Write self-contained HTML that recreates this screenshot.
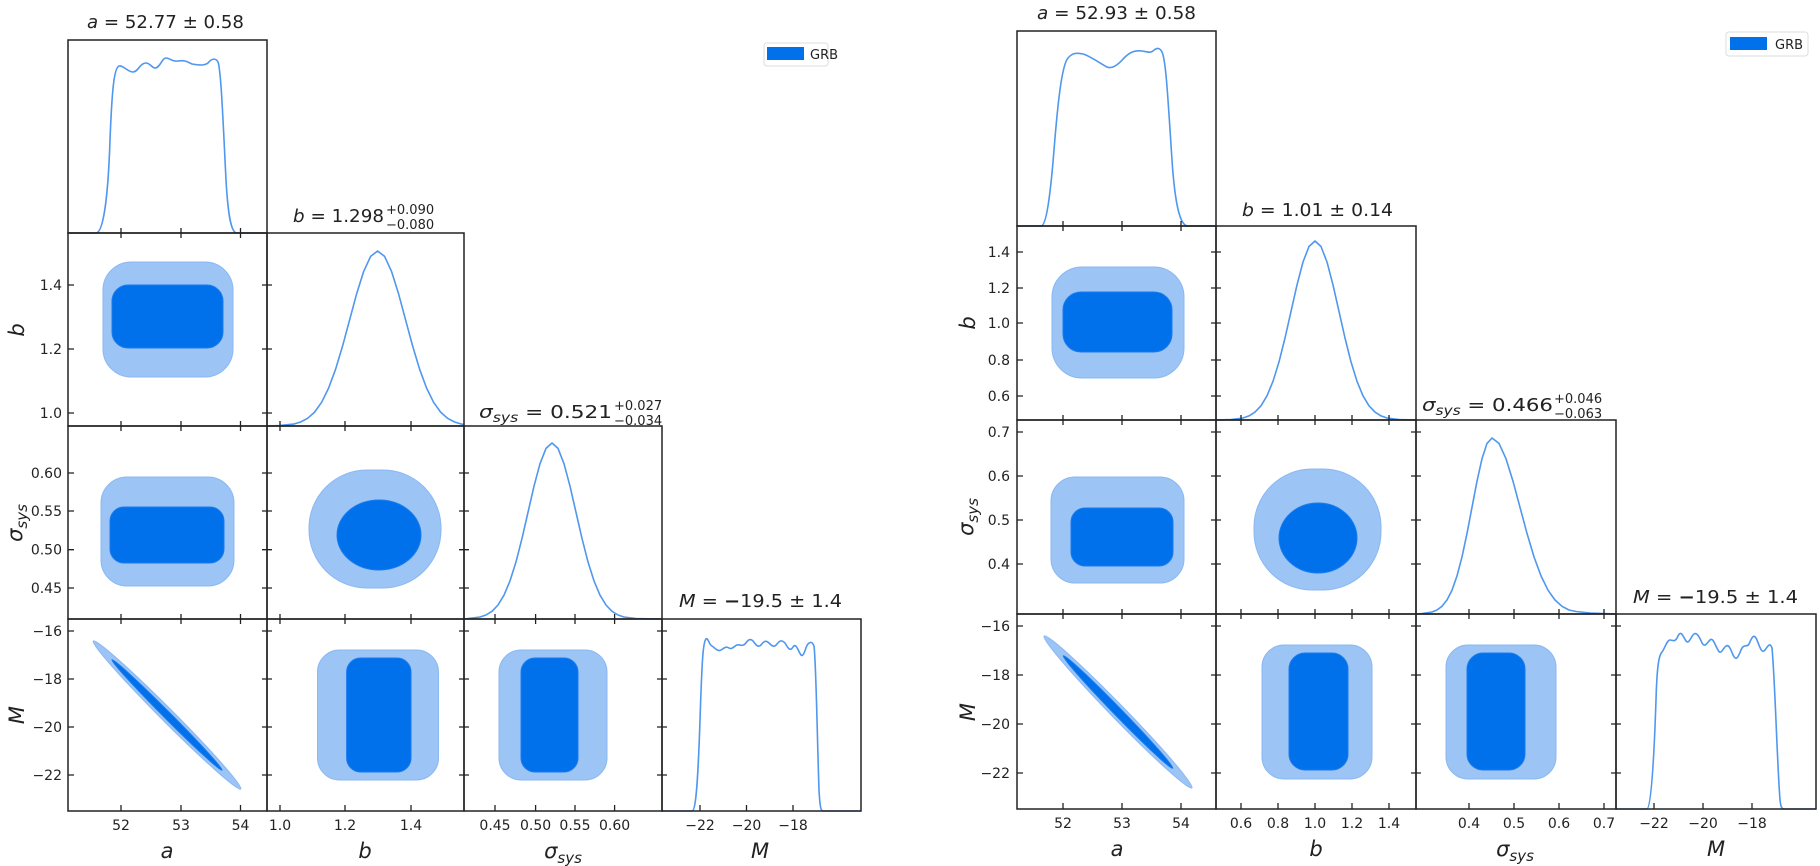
<!DOCTYPE html>
<html><head><meta charset="utf-8"><style>
html,body{margin:0;padding:0;background:#fff}
svg{display:block}
text{font-family:"DejaVu Sans","Liberation Sans",sans-serif;fill:#222}
.t{font-size:14px}
.ti{font-size:18px}
.lab{font-size:21px;font-style:italic}
.c1{fill:#9cc4f5;stroke:#8ab8f2;stroke-width:1}
.c2{fill:#0070eb;stroke:#1a7cee;stroke-width:1}
.ln{fill:none;stroke:#4f97ef;stroke-width:1.6;stroke-linejoin:round}
.ax{fill:none;stroke:#222;stroke-width:1.5}
.tk{fill:none;stroke:#222;stroke-width:1.3}
</style></head><body>
<svg width="1820" height="866" viewBox="0 0 1820 866" xmlns="http://www.w3.org/2000/svg">
<rect width="1820" height="866" fill="#fff"/>

<!-- ================= LEFT ================= -->
<rect class="c1" x="103" y="262" width="130" height="115" rx="28"/>
<rect class="c2" x="112" y="285" width="111" height="63" rx="16"/>
<rect class="c1" x="101" y="477" width="133" height="109" rx="26"/>
<rect class="c2" x="110" y="507" width="114" height="56" rx="14"/>
<rect class="c1" x="309" y="470" width="132" height="118" rx="58"/>
<ellipse class="c2" cx="379" cy="535" rx="42" ry="35"/>
<ellipse class="c1" cx="167" cy="715" rx="104.5" ry="6.5" transform="rotate(45.1 167 715)"/>
<ellipse class="c2" cx="167" cy="715" rx="78" ry="3.5" transform="rotate(45.1 167 715)"/>
<rect class="c1" x="317.5" y="650" width="121" height="130" rx="22"/>
<rect class="c2" x="346.6" y="658" width="64.4" height="114" rx="14"/>
<rect class="c1" x="499" y="650" width="108" height="130" rx="22"/>
<rect class="c2" x="521" y="658" width="57" height="114" rx="14"/>

<path class="ln" d="M68,233 L96,233 C103,233 108,200 110,140 C112,90 114,68 119,66 C123,65 128,72 133,72 C138,72 140,63 146,63 C150,63 152,68 155,68 C160,68 162,58 166,58 C170,58 172,62 178,61 C184,60 186,61 192,64 C198,65 204,66 208,63 C212,58 216,58 218,62 C221,70 223,120 226,180 C228,215 231,233 237,233 L267,233"/>
<polyline class="ln" points="267,426 279.6,425.6 293.6,424.1 300.6,422 307.6,418.3 314.6,412.1 321.6,402.3 328.6,388.1 335.6,369.2 342.6,345.9 349.6,319.9 356.6,293.9 363.6,271.6 370.6,256.4 377.6,251 384.6,256.4 391.6,271.6 398.6,293.9 405.6,319.9 412.6,345.9 419.6,369.2 426.6,388.1 433.6,402.3 440.6,412.1 447.6,418.3 454.6,422 461.6,424.1 464,424.5"/>
<polyline class="ln" points="464,619 468,618.6 480,617 486,615 492,611.3 498,605 504,595.2 510,580.9 516,561.9 522,538.4 528,512.3 534,486.2 540,463.7 546,448.4 552,443 558,448.4 564,463.7 570,486.2 576,512.3 582,538.4 588,561.9 594,580.9 600,595.2 606,605 612,611.3 618,615 624,617 636,618.6 662,619"/>
<path class="ln" d="M662,811 L692,811 C696,811 698,780 700,720 C702,660 703,642 706,639 C708,637 709,645 712,646 C715,648 718,652 721,650 C724,648 726,646 729,648 C732,650 734,646 737,645 C740,644 742,647 745,644 C748,640 750,638 753,641 C756,645 758,648 761,645 C764,641 766,640 769,643 C772,646 774,648 777,644 C780,640 782,640 785,643 C788,648 790,652 793,647 C796,642 798,651 801,655 C804,658 806,645 808,644 C810,642 812,641 814,646 C816,660 817,730 819,790 C820,808 821,811 823,811 L861,811"/>

<g class="ax">
<rect x="68" y="40" width="199" height="193"/>
<rect x="68" y="233" width="199" height="193"/><rect x="267" y="233" width="197" height="193"/>
<rect x="68" y="426" width="199" height="193"/><rect x="267" y="426" width="197" height="193"/><rect x="464" y="426" width="198" height="193"/>
<rect x="68" y="619" width="199" height="192"/><rect x="267" y="619" width="197" height="192"/><rect x="464" y="619" width="198" height="192"/><rect x="662" y="619" width="199" height="192"/>
</g>
<path class="tk" d="
M121,228L121,238 M181,228L181,238 M240.5,228L240.5,238
M121,421L121,431 M181,421L181,431 M240.5,421L240.5,431
M121,614L121,624 M181,614L181,624 M240.5,614L240.5,624
M121,805L121,811 M181,805L181,811 M240.5,805L240.5,811
M280,421L280,431 M345,421L345,431 M411,421L411,431
M280,614L280,624 M345,614L345,624 M411,614L411,624
M280,805L280,811 M345,805L345,811 M411,805L411,811
M495,614L495,624 M535.6,614L535.6,624 M575,614L575,624 M614.6,614L614.6,624
M495,805L495,811 M535.6,805L535.6,811 M575,805L575,811 M614.6,805L614.6,811
M700,805L700,811 M746.5,805L746.5,811 M793,805L793,811
M68,285L74,285 M68,349L74,349 M68,413L74,413 M262,285L272,285 M262,349L272,349 M262,413L272,413
M68,473L74,473 M68,511L74,511 M68,549.7L74,549.7 M68,588L74,588
M262,473L272,473 M262,511L272,511 M262,549.7L272,549.7 M262,588L272,588
M459,473L469,473 M459,511L469,511 M459,549.7L469,549.7 M459,588L469,588
M68,631L74,631 M68,679L74,679 M68,727L74,727 M68,775L74,775
M262,631L272,631 M262,679L272,679 M262,727L272,727 M262,775L272,775
M459,631L469,631 M459,679L469,679 M459,727L469,727 M459,775L469,775
M657,631L667,631 M657,679L667,679 M657,727L667,727 M657,775L667,775"/>

<g class="t" text-anchor="middle">
<text x="121" y="830">52</text><text x="181" y="830">53</text><text x="240.5" y="830">54</text>
<text x="280" y="830">1.0</text><text x="345" y="830">1.2</text><text x="411" y="830">1.4</text>
<text x="495" y="830">0.45</text><text x="535.6" y="830">0.50</text><text x="575" y="830">0.55</text><text x="614.6" y="830">0.60</text>
<text x="700" y="830">−22</text><text x="746.5" y="830">−20</text><text x="793" y="830">−18</text>
</g>
<g class="t" text-anchor="end">
<text x="62" y="290">1.4</text><text x="62" y="354">1.2</text><text x="62" y="418">1.0</text>
<text x="62" y="478">0.60</text><text x="62" y="516">0.55</text><text x="62" y="554.7">0.50</text><text x="62" y="593">0.45</text>
<text x="62" y="636">−16</text><text x="62" y="684">−18</text><text x="62" y="732">−20</text><text x="62" y="780">−22</text>
</g>

<text class="ti" x="87" y="28" textLength="157" lengthAdjust="spacingAndGlyphs"><tspan font-style="italic">a</tspan> = 52.77 ± 0.58</text>
<text class="ti" x="293" y="222" textLength="91" lengthAdjust="spacingAndGlyphs"><tspan font-style="italic">b</tspan> = 1.298</text>
<text x="386" y="214" font-size="13">+0.090</text><text x="386" y="229" font-size="13">−0.080</text>
<text class="ti" x="479" y="418" textLength="133" lengthAdjust="spacingAndGlyphs"><tspan font-style="italic">σ<tspan font-size="13" dy="4">sys</tspan></tspan><tspan dy="-4"> = 0.521</tspan></text>
<text x="614" y="410" font-size="13">+0.027</text><text x="614" y="425" font-size="13">−0.034</text>
<text class="ti" x="679" y="607" textLength="163" lengthAdjust="spacingAndGlyphs"><tspan font-style="italic">M</tspan> = <tspan font-weight="bold">−</tspan>19.5 ± 1.4</text>

<g class="lab" text-anchor="middle">
<text x="167" y="858">a</text><text x="365" y="858">b</text>
<text x="563" y="858">σ<tspan font-size="15" dy="5">sys</tspan></text>
<text x="760" y="858">M</text>
<text transform="translate(24,330) rotate(-90)">b</text>
<text transform="translate(22,523) rotate(-90)">σ<tspan font-size="15" dy="5">sys</tspan></text>
<text transform="translate(24,715) rotate(-90)">M</text>
</g>

<rect x="764" y="43" width="64" height="23" rx="3" fill="#fff" stroke="#ddd"/>
<rect x="767" y="47" width="37" height="13" fill="#0070eb"/>
<text x="810" y="59" font-size="13">GRB</text>

<!-- ================= RIGHT ================= -->
<rect class="c1" x="1052" y="267" width="132" height="111" rx="30"/>
<rect class="c2" x="1063" y="292" width="109" height="60" rx="18"/>
<rect class="c1" x="1051" y="477" width="133" height="106" rx="24"/>
<rect class="c2" x="1071" y="508" width="102" height="58" rx="14"/>
<rect class="c1" x="1254" y="469" width="127" height="121" rx="58"/>
<ellipse class="c2" cx="1318" cy="538" rx="39" ry="35"/>
<ellipse class="c1" cx="1118" cy="712" rx="106" ry="7" transform="rotate(45.8 1118 712)"/>
<ellipse class="c2" cx="1118" cy="712" rx="78.5" ry="4" transform="rotate(45.8 1118 712)"/>
<rect class="c1" x="1262" y="645" width="110" height="134" rx="22"/>
<rect class="c2" x="1289" y="653" width="59" height="117" rx="16"/>
<rect class="c1" x="1446" y="645" width="110" height="134" rx="22"/>
<rect class="c2" x="1467" y="653" width="58" height="117" rx="16"/>

<path class="ln" d="M1017,226 L1041,226 C1046,226 1050,200 1054,150 C1058,100 1062,65 1068,58 C1073,52 1078,53 1083,54 C1090,56 1098,62 1107,67 C1112,69 1118,65 1124,58 C1130,52 1135,50 1142,51 C1148,52 1150,53 1153,51 C1157,47 1160,48 1162,52 C1166,60 1168,100 1172,160 C1175,205 1180,226 1188,226 L1216,226"/>
<polyline class="ln" points="1216,420 1231,419.6 1243,418 1249,415.9 1255,412.1 1261,405.8 1267,395.8 1273,381.3 1279,361.9 1285,338 1291,311.4 1297,284.9 1303,262 1309,246.5 1315,241 1321,246.5 1327,262 1333,284.9 1339,311.4 1345,338 1351,361.9 1357,381.3 1363,395.8 1369,405.8 1375,412.1 1381,415.9 1387,418 1399,419.6 1416,420"/>
<polyline class="ln" points="1416,614 1422,613.6 1432,612 1437,610 1442,606.3 1447,600 1452,590.2 1457,575.9 1462,556.9 1467,533.4 1472,507.3 1477,481.2 1482,458.7 1487,443.4 1492,438 1499,443.4 1506,458.7 1513,481.2 1520,507.3 1527,533.4 1534,556.9 1541,575.9 1548,590.2 1555,600 1562,606.3 1569,610 1576,611.5 1590,613 1616,614"/>
<path class="ln" d="M1616,809 L1647,809 C1651,809 1654,760 1656,700 C1657,665 1659,655 1662,652 C1665,648 1667,640 1670,640 C1673,640 1675,643 1678,636 C1681,630 1683,636 1686,641 C1689,645 1691,636 1694,634 C1697,632 1700,638 1702,643 C1705,648 1707,643 1710,640 C1713,637 1715,645 1718,650 C1721,656 1723,648 1726,646 C1729,644 1731,650 1733,655 C1736,661 1738,658 1741,650 C1744,643 1747,648 1749,644 C1752,637 1754,633 1757,640 C1760,648 1762,654 1765,650 C1768,646 1770,642 1772,648 C1775,680 1777,760 1780,800 C1781,808 1782,809 1784,809 L1816,809"/>

<g class="ax">
<rect x="1017" y="31" width="199" height="195"/>
<rect x="1017" y="226" width="199" height="194"/><rect x="1216" y="226" width="200" height="194"/>
<rect x="1017" y="420" width="199" height="194"/><rect x="1216" y="420" width="200" height="194"/><rect x="1416" y="420" width="200" height="194"/>
<rect x="1017" y="614" width="199" height="195"/><rect x="1216" y="614" width="200" height="195"/><rect x="1416" y="614" width="200" height="195"/><rect x="1616" y="614" width="200" height="195"/>
</g>
<path class="tk" d="
M1063,221L1063,231 M1122,221L1122,231 M1181,221L1181,231
M1063,415L1063,425 M1122,415L1122,425 M1181,415L1181,425
M1063,609L1063,619 M1122,609L1122,619 M1181,609L1181,619
M1063,803L1063,809 M1122,803L1122,809 M1181,803L1181,809
M1241,415L1241,425 M1278,415L1278,425 M1315,415L1315,425 M1352,415L1352,425 M1389,415L1389,425
M1241,609L1241,619 M1278,609L1278,619 M1315,609L1315,619 M1352,609L1352,619 M1389,609L1389,619
M1241,803L1241,809 M1278,803L1278,809 M1315,803L1315,809 M1352,803L1352,809 M1389,803L1389,809
M1469,609L1469,619 M1514,609L1514,619 M1559,609L1559,619 M1604,609L1604,619
M1469,803L1469,809 M1514,803L1514,809 M1559,803L1559,809 M1604,803L1604,809
M1654,803L1654,809 M1703,803L1703,809 M1752,803L1752,809
M1017,252L1023,252 M1017,288L1023,288 M1017,323L1023,323 M1017,360L1023,360 M1017,396L1023,396
M1211,252L1221,252 M1211,288L1221,288 M1211,323L1221,323 M1211,360L1221,360 M1211,396L1221,396
M1017,432L1023,432 M1017,476L1023,476 M1017,520L1023,520 M1017,564L1023,564
M1211,432L1221,432 M1211,476L1221,476 M1211,520L1221,520 M1211,564L1221,564
M1411,432L1421,432 M1411,476L1421,476 M1411,520L1421,520 M1411,564L1421,564
M1017,626L1023,626 M1017,675L1023,675 M1017,724L1023,724 M1017,773L1023,773
M1211,626L1221,626 M1211,675L1221,675 M1211,724L1221,724 M1211,773L1221,773
M1411,626L1421,626 M1411,675L1421,675 M1411,724L1421,724 M1411,773L1421,773
M1611,626L1621,626 M1611,675L1621,675 M1611,724L1621,724 M1611,773L1621,773"/>

<g class="t" text-anchor="middle">
<text x="1063" y="828">52</text><text x="1122" y="828">53</text><text x="1181" y="828">54</text>
<text x="1241" y="828">0.6</text><text x="1278" y="828">0.8</text><text x="1315" y="828">1.0</text><text x="1352" y="828">1.2</text><text x="1389" y="828">1.4</text>
<text x="1469" y="828">0.4</text><text x="1514" y="828">0.5</text><text x="1559" y="828">0.6</text><text x="1604" y="828">0.7</text>
<text x="1654" y="828">−22</text><text x="1703" y="828">−20</text><text x="1752" y="828">−18</text>
</g>
<g class="t" text-anchor="end">
<text x="1010" y="257">1.4</text><text x="1010" y="293">1.2</text><text x="1010" y="328">1.0</text><text x="1010" y="365">0.8</text><text x="1010" y="401">0.6</text>
<text x="1010" y="437">0.7</text><text x="1010" y="481">0.6</text><text x="1010" y="525">0.5</text><text x="1010" y="569">0.4</text>
<text x="1010" y="631">−16</text><text x="1010" y="680">−18</text><text x="1010" y="729">−20</text><text x="1010" y="778">−22</text>
</g>

<text class="ti" x="1037" y="19" textLength="159" lengthAdjust="spacingAndGlyphs"><tspan font-style="italic">a</tspan> = 52.93 ± 0.58</text>
<text class="ti" x="1242" y="216" textLength="151" lengthAdjust="spacingAndGlyphs"><tspan font-style="italic">b</tspan> = 1.01 ± 0.14</text>
<text class="ti" x="1422" y="411" textLength="131" lengthAdjust="spacingAndGlyphs"><tspan font-style="italic">σ<tspan font-size="13" dy="4">sys</tspan></tspan><tspan dy="-4"> = 0.466</tspan></text>
<text x="1554" y="403" font-size="13">+0.046</text><text x="1554" y="418" font-size="13">−0.063</text>
<text class="ti" x="1633" y="603" textLength="165" lengthAdjust="spacingAndGlyphs"><tspan font-style="italic">M</tspan> = <tspan font-weight="bold">−</tspan>19.5 ± 1.4</text>

<g class="lab" text-anchor="middle">
<text x="1117" y="856">a</text><text x="1316" y="856">b</text>
<text x="1515" y="856">σ<tspan font-size="15" dy="5">sys</tspan></text>
<text x="1716" y="856">M</text>
<text transform="translate(975,323) rotate(-90)">b</text>
<text transform="translate(973,517) rotate(-90)">σ<tspan font-size="15" dy="5">sys</tspan></text>
<text transform="translate(975,712) rotate(-90)">M</text>
</g>

<rect x="1726" y="32" width="82" height="24" rx="3" fill="#fff" stroke="#ddd"/>
<rect x="1730" y="37" width="37" height="13" fill="#0070eb"/>
<text x="1775" y="49" font-size="13">GRB</text>
</svg>
</body></html>
